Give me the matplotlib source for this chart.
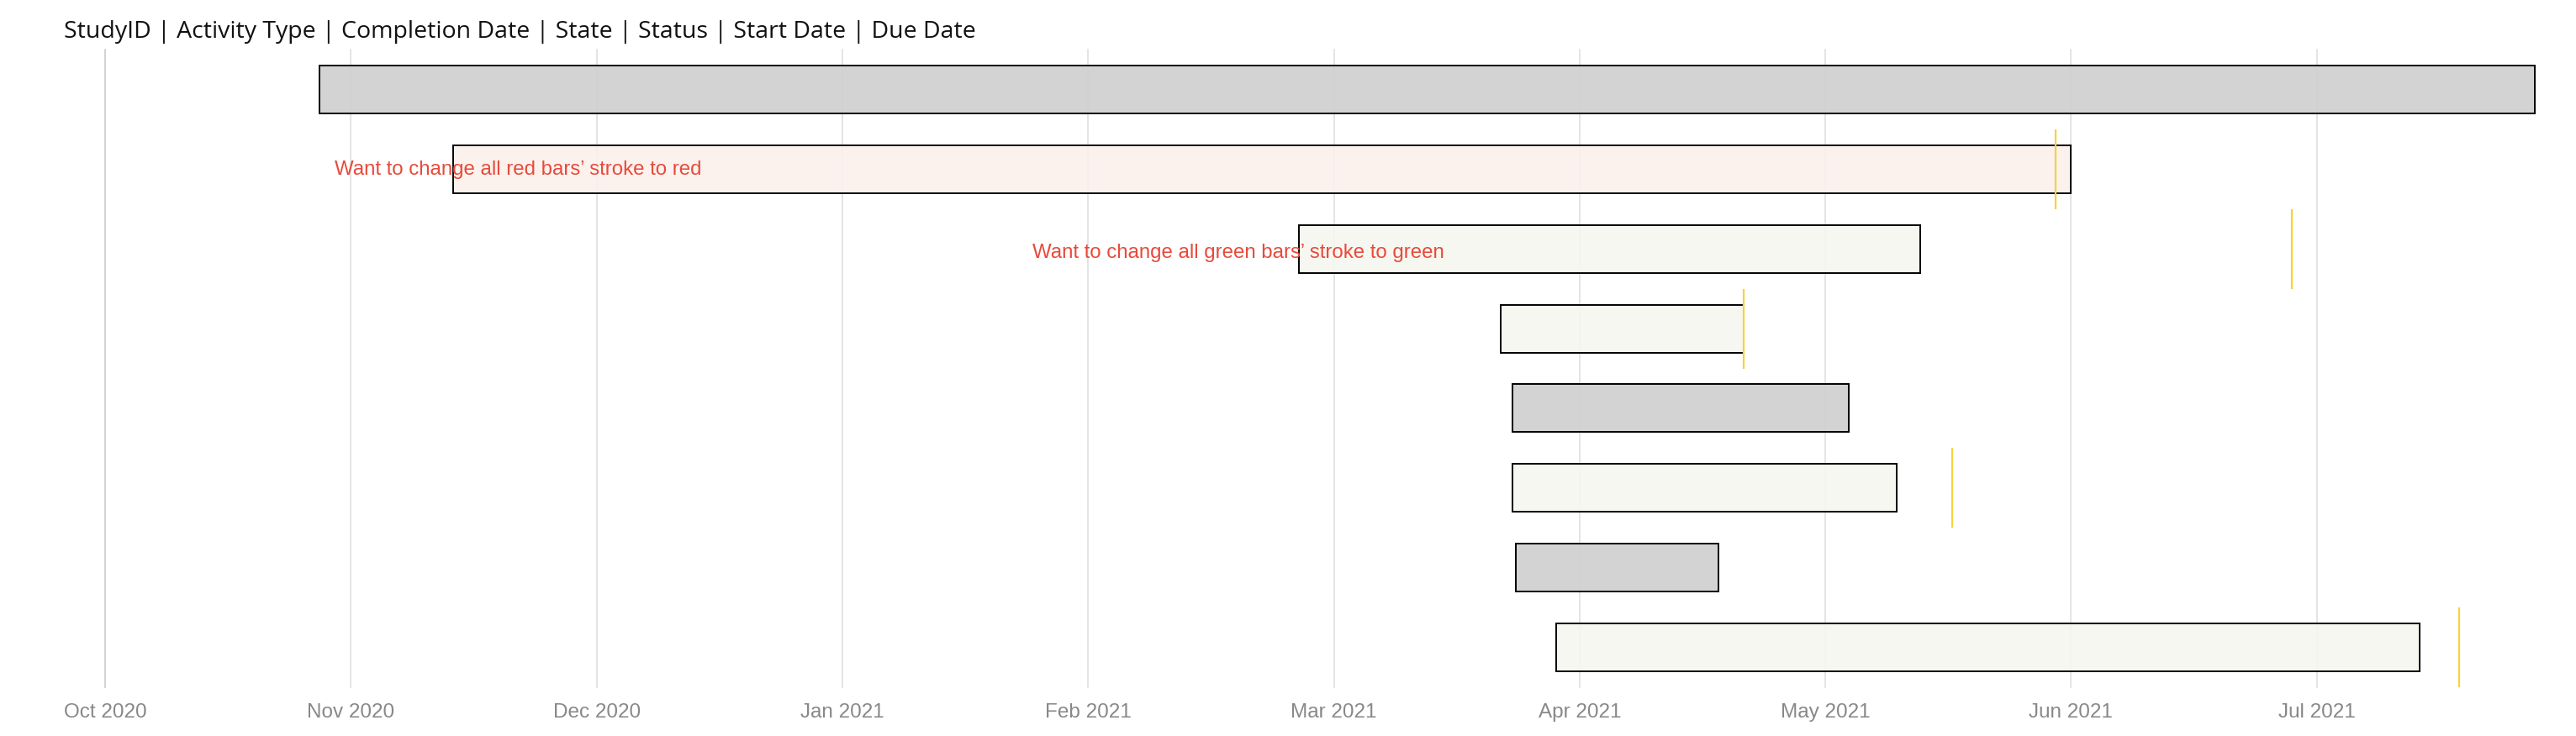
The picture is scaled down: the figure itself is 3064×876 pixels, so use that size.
import calendar
from datetime import datetime

import matplotlib
matplotlib.use("Agg")
import matplotlib.pyplot as plt

# 每一行的任务：开始、结束、截止日期以及状态颜色
starts = ["2020-10-28", "2020-11-13 12:00", "2021-02-25", "2021-03-22",
          "2021-03-23 12:00", "2021-03-23 12:00", "2021-03-24", "2021-03-29"]
ends = ["2021-07-28 12:00", "2021-06-01", "2021-05-13", "2021-04-21",
        "2021-05-04", "2021-05-10", "2021-04-18", "2021-07-14"]
due_dates = [None, "2021-05-30", "2021-06-28", "2021-04-21",
             None, "2021-05-17", None, "2021-07-19"]
status = ["gray", "red", "green", "green", "gray", "green", "gray", "green"]

month_labels = ["Oct 2020", "Nov 2020", "Dec 2020", "Jan 2021", "Feb 2021",
                "Mar 2021", "Apr 2021", "May 2021", "Jun 2021", "Jul 2021"]

notes = ["Want to change all red bars\u2019 stroke to red",
         "Want to change all green bars\u2019 stroke to green"]
note_dates = ["2020-10-30", "2021-01-25"]
note_rows = [1.07, 2.11]

TITLE = "StudyID | Activity Type | Completion Date | State | Status | Start Date | Due Date"

FILL = {"gray": (0.812, 0.812, 0.812, 0.9),
        "red": ("#fbf1ed", 0.9),
        "green": ("#f5f7ef", 0.9)}
ORIGIN = (2020, 10)


def month_pos(s):
    """日期 -> 从 2020 年 10 月起的月份位置（每个月等宽）。"""
    d = datetime.fromisoformat(s)
    days = calendar.monthrange(d.year, d.month)[1]
    frac = (d.day - 1 + d.hour / 24) / days
    return (d.year - ORIGIN[0]) * 12 + d.month - ORIGIN[1] + frac


W, H = 3064, 876
fig = plt.figure(figsize=(W / 100, H / 100), dpi=100)
ax = fig.add_axes([125 / W, 1 - 818 / H, (3048 - 125) / W, (818 - 59) / H])

rows = list(range(len(starts)))
left = [month_pos(s) for s in starts]
width = [month_pos(e) - month_pos(s) for s, e in zip(starts, ends)]
colors = [FILL[c] for c in status]

ax.barh(rows, width, left=left, height=0.6, color=colors,
        edgecolor="black", linewidth=1.4, zorder=3)

for r, d in zip(rows, due_dates):
    if d is None:
        continue
    x = month_pos(d)
    ax.vlines(x, r - 0.5, r + 0.5, color="#f7d23e", linewidth=1.6, zorder=4)

for txt, d, r in zip(notes, note_dates, note_rows):
    ax.text(month_pos(d), r, txt, color="#e84a3b", fontsize=17.25,
            family=["Liberation Sans", "DejaVu Sans"], va="baseline", ha="left",
            zorder=5)

ax.set_xlim(0, 10)
ax.set_ylim(len(starts) - 0.5, -0.5)
ax.set_xticks(range(len(month_labels)))
ax.set_xticklabels(month_labels, color="#888888", fontsize=17.5,
                   family="Liberation Sans")
ax.set_yticks([])
ax.tick_params(axis="x", length=0, pad=13.5)
for side in ax.spines.values():
    side.set_visible(False)

ax.grid(axis="x", color="#dddddd", linewidth=1.1, zorder=1)
ax.set_axisbelow(True)
grid = ax.get_xgridlines()
for g in grid:
    g.set_clip_on(False)
grid[0].set_color("#c6c6c6")

fig.text(76 / W, 1 - 38 / H, TITLE, fontsize=20.5, family="Open Sans",
         color="#111111", va="center", ha="left")

fig.savefig("out.png", dpi=100, facecolor="white")
